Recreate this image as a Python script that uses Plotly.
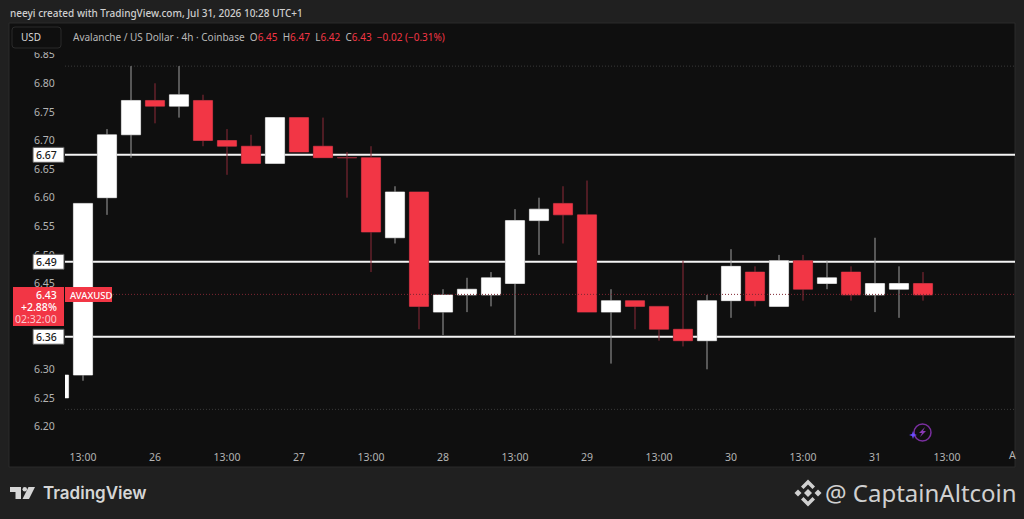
import pandas as pd
import plotly.graph_objects as go

# candles, 4h, Jul 25 09:00 -> Jul 31 09:00
times = pd.date_range("2026-07-25 09:00", periods=37, freq="4h")
opens = [6.25, 6.29, 6.60, 6.71, 6.77, 6.76, 6.77, 6.70, 6.69, 6.66, 6.74, 6.69, 6.67,
         6.67, 6.53, 6.61, 6.40, 6.43, 6.43, 6.45, 6.56, 6.59, 6.57, 6.40, 6.42, 6.41,
         6.37, 6.35, 6.42, 6.47, 6.41, 6.49, 6.45, 6.47, 6.43, 6.44, 6.45]
closes = [6.29, 6.59, 6.71, 6.77, 6.76, 6.78, 6.70, 6.69, 6.66, 6.74, 6.68, 6.67, 6.67,
          6.54, 6.61, 6.41, 6.43, 6.44, 6.46, 6.56, 6.58, 6.57, 6.40, 6.42, 6.41, 6.37,
          6.35, 6.42, 6.48, 6.42, 6.49, 6.44, 6.46, 6.43, 6.45, 6.45, 6.43]
highs = [6.29, 6.59, 6.72, 6.83, 6.80, 6.83, 6.78, 6.72, 6.71, 6.74, 6.74, 6.74, 6.68,
         6.69, 6.62, 6.61, 6.44, 6.46, 6.47, 6.58, 6.60, 6.62, 6.63, 6.44, 6.42, 6.41,
         6.49, 6.43, 6.51, 6.48, 6.50, 6.50, 6.49, 6.48, 6.53, 6.48, 6.47]
lows = [6.25, 6.28, 6.57, 6.67, 6.73, 6.74, 6.69, 6.64, 6.66, 6.66, 6.68, 6.67, 6.60,
        6.47, 6.52, 6.37, 6.36, 6.40, 6.41, 6.36, 6.50, 6.52, 6.40, 6.31, 6.37, 6.35,
        6.34, 6.30, 6.39, 6.41, 6.41, 6.42, 6.44, 6.42, 6.40, 6.39, 6.42]

# horizontal levels drawn on the chart and the text on their price tags
levels = [6.675, 6.488, 6.357]
level_labels = ["6.67", "6.49", "6.36"]
last_price = 6.431
range_high = 6.83
range_low = 6.23

# 6.35 and 6.40 sit behind the price tags in the picture
price_ticks = [6.20, 6.25, 6.30, 6.45, 6.50, 6.55, 6.60, 6.65, 6.70, 6.75, 6.80, 6.85]
time_ticks = ["2026-07-25 13:00", "2026-07-26 01:00", "2026-07-26 13:00", "2026-07-27 01:00",
              "2026-07-27 13:00", "2026-07-28 01:00", "2026-07-28 13:00", "2026-07-29 01:00",
              "2026-07-29 13:00", "2026-07-30 01:00", "2026-07-30 13:00", "2026-07-31 01:00",
              "2026-07-31 13:00"]
time_labels = ["13:00", "26", "13:00", "27", "13:00", "28", "13:00", "29", "13:00", "30", "13:00", "31", "13:00"]

# plot area in page pixels
W, H = 1024, 519
L, R, T, B = 65, 1015, 50, 443

PAGE = "#202020"
PANE = "#0f0f0f"
RED = "#f23645"
WHITE = "#ffffff"
FONT = "Noto Sans"
GREY = "#b4b4b4"


def fx(px):
    return (px - L) / (R - L)


def fy(py):
    return (B - py) / (B - T)


def poly(points):
    return "M" + " L".join(f"{fx(x)},{fy(y)}" for x, y in points) + " Z"


fig = go.Figure()

# wicks (and the thin outline round the bodies)
fig.add_trace(go.Candlestick(x=times, open=opens, high=highs, low=lows, close=closes,
                             increasing=dict(line=dict(color="#a0a0a0", width=1), fillcolor="rgba(0,0,0,0)"),
                             decreasing=dict(line=dict(color="#8e2b38", width=1), fillcolor="rgba(0,0,0,0)"),
                             whiskerwidth=0, hoverinfo="skip"))
# bodies on top
fig.add_trace(go.Candlestick(x=times, open=opens, close=closes,
                             high=[max(a, b) for a, b in zip(opens, closes)],
                             low=[min(a, b) for a, b in zip(opens, closes)],
                             increasing=dict(line=dict(color=WHITE, width=0), fillcolor=WHITE),
                             decreasing=dict(line=dict(color=RED, width=0), fillcolor=RED),
                             whiskerwidth=0, hoverinfo="skip"))

shapes = []
ann = []


def rect(x0, y0, x1, y1, fill, line=None, layer="above"):
    shapes.append(dict(type="rect", xref="paper", yref="paper", layer=layer,
                       x0=fx(x0), x1=fx(x1), y0=fy(y0), y1=fy(y1), fillcolor=fill,
                       line=dict(color=line or fill, width=1 if line else 0)))


def text(px, py, s, size=10.5, color=GREY, anchor="left", family=FONT, weight=400):
    ann.append(dict(xref="paper", yref="paper", x=fx(px), y=fy(py), text=s, showarrow=False,
                    xanchor=anchor, yanchor="middle", align=anchor, borderpad=0,
                    font=dict(family=family, size=size, color=color, weight=weight)))


# chart pane behind everything
rect(9, 23, 1015, 467, PANE, "#2b2b2b", layer="below")

for lv in levels:
    shapes.append(dict(type="line", xref="paper", yref="y", layer="below", x0=0, x1=1, y0=lv, y1=lv,
                       line=dict(color="#f4f4f4", width=2)))
for lv in [range_high, range_low]:
    shapes.append(dict(type="line", xref="paper", yref="y", layer="below", x0=0, x1=1, y0=lv, y1=lv,
                       line=dict(color="#3a3a3a", width=1, dash="1px,2px")))
shapes.append(dict(type="line", xref="paper", yref="y", layer="above", x0=0, x1=1, y0=last_price, y1=last_price,
                   line=dict(color="#7f2733", width=1, dash="1px,2px")))

# header strip hides the top of the 6.85 label
rect(10, 24, 1014, 52, PANE)
# USD button, rounded corners
x0, x1, y0, y1, dx, dy = fx(12), fx(61), fy(27), fy(48), fx(15) - fx(12), fy(27) - fy(30)
shapes.append(dict(type="path", xref="paper", yref="paper", fillcolor=PANE, line=dict(color="#2b2b2b", width=1),
                   path=f"M{x0 + dx},{y0} L{x1 - dx},{y0} Q{x1},{y0} {x1},{y0 - dy} L{x1},{y1 + dy} Q{x1},{y1} {x1 - dx},{y1} "
                        f"L{x0 + dx},{y1} Q{x0},{y1} {x0},{y1 + dy} L{x0},{y0 - dy} Q{x0},{y0} {x0 + dx},{y0} Z"))
text(20, 37.5, "USD", size=10, color="#d8d8d8")
text(9, 13, "neeyi created with TradingView.com, Jul 31, 2026 10:28 UTC+1", size=10, color="#cfcfcf", weight=500)
red = lambda s: f'<span style="color:{RED}">{s}</span>'
text(72, 36.5, "Avalanche / US Dollar · 4h · Coinbase  O" + red("6.45") + "  H" + red("6.47") + "  L" + red("6.42")
     + "  C" + red("6.43") + "  " + red("−0.02 (−0.31%)"), size=10, color="#b8b8b8")

# price tags
for lv, lab in zip(levels, level_labels):
    py = B - (lv - 6.1712) * 572
    rect(33, py - 7.5, 64, py + 7.5, WHITE, "#555555")
    text(58, py, lab, size=10.5, color="#1a1a1a", anchor="right", weight=500)

rect(13, 287, 64, 326, RED)
text(58, 295, "6.43", size=10.5, color=WHITE, anchor="right", weight=500)
text(58, 307, "+2.88%", size=10.5, color=WHITE, anchor="right", weight=500)
text(58, 319, "02:32:00", size=10.5, color="#fbc9ce", anchor="right")
rect(65, 287, 112, 302, RED)
text(69, 295, "AVAXUSD", size=9.5, color=WHITE, weight=500)

text(1008, 455, "A", size=10.5)

# footer
text(42, 493, "TradingView", size=17, color="#d6d6d6", family="Inter", weight=600)
text(824, 492, "@ CaptainAltcoin", size=24, color="#d0d0d0")

LOGO = "#d6d6d6"
shapes.append(dict(type="path", xref="paper", yref="paper", fillcolor=LOGO, line=dict(width=0),
                   path=poly([(10, 487), (21, 487), (21, 499), (15.5, 499), (15.5, 492), (10, 492)])))
shapes.append(dict(type="path", xref="paper", yref="paper", fillcolor=LOGO, line=dict(width=0),
                   path=poly([(28.5, 487), (35, 487), (29, 499), (22.5, 499)])))
shapes.append(dict(type="circle", xref="paper", yref="paper", fillcolor=LOGO, line=dict(width=0),
                   x0=fx(22.5), x1=fx(27), y0=fy(491.5), y1=fy(487)))

cx, cy = 808, 493
for pts in ([(0, -13.5), (7, -6.5), (4.5, -4), (0, -8.5), (-4.5, -4), (-7, -6.5)],
            [(0, 13.5), (7, 6.5), (4.5, 4), (0, 8.5), (-4.5, 4), (-7, 6.5)],
            [(0, -4), (4, 0), (0, 4), (-4, 0)],
            [(-13.5, 0), (-10, -3.5), (-6.5, 0), (-10, 3.5)],
            [(13.5, 0), (10, -3.5), (6.5, 0), (10, 3.5)]):
    shapes.append(dict(type="path", xref="paper", yref="paper", fillcolor="#d0d0d0", line=dict(width=0),
                       path=poly([(cx + a, cy + b) for a, b in pts])))

# purple bolt badge
shapes.append(dict(type="circle", xref="paper", yref="paper", layer="above", fillcolor="rgba(0,0,0,0)",
                   line=dict(color="#7a2fa0", width=1.5), x0=fx(914), x1=fx(931), y0=fy(441), y1=fy(424)))
shapes.append(dict(type="path", xref="paper", yref="paper", fillcolor="#8a3ab5", line=dict(width=0),
                   path=poly([(925, 427), (919, 433), (922, 433), (920, 437), (926, 431), (923, 431)])))
shapes.append(dict(type="path", xref="paper", yref="paper", fillcolor="#6a4cff", line=dict(width=0),
                   path=poly([(913, 431), (914, 434), (917, 435), (914, 436), (913, 439), (912, 436), (909, 435), (912, 434)])))

fig.update_layout(
    width=W, height=H, autosize=False,
    margin=dict(l=L, r=W - R, t=T, b=H - B),
    paper_bgcolor=PAGE, plot_bgcolor=PANE,
    showlegend=False, boxgap=0.2, boxgroupgap=0,
    shapes=shapes, annotations=ann,
    font=dict(family=FONT, size=10.5, color=GREY),
)
fig.update_xaxes(type="date", range=["2026-07-25 10:00", "2026-08-01 00:20"], rangeslider_visible=False,
                 tickmode="array", tickvals=time_ticks, ticktext=time_labels, tickangle=0,
                 showgrid=False, zeroline=False, showline=False,
                 ticks="outside", ticklen=4, tickcolor=PANE, tickfont=dict(size=10.5, color=GREY))
fig.update_yaxes(range=[6.1712, 6.8582], tickmode="array", tickvals=price_ticks,
                 ticktext=[f"{v:.2f}" for v in price_ticks],
                 showgrid=False, zeroline=False, showline=False,
                 ticks="outside", ticklen=7, tickcolor=PANE, tickfont=dict(size=10.5, color=GREY))

# page body has a default margin, drop it so the figure sits at 0,0
fig.write_html("out.html", config=dict(displayModeBar=False),
               post_script="document.body.style.margin='0';document.body.style.overflow='hidden';")
